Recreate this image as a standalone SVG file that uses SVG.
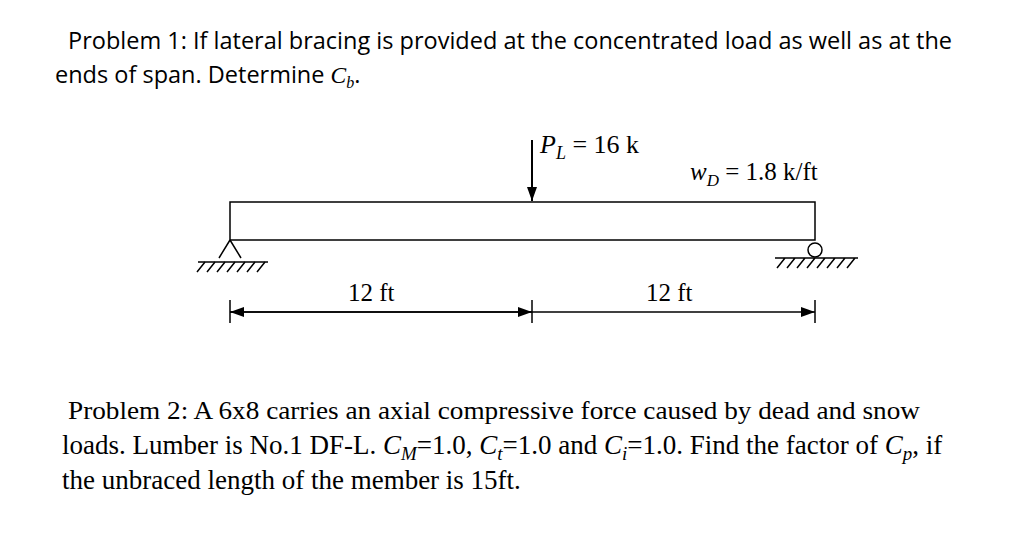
<svg xmlns="http://www.w3.org/2000/svg" width="1024" height="540" viewBox="0 0 1024 540">
<style>
.s{font-family:"Open Sans","Liberation Sans",sans-serif;font-size:23.5px;fill:#000}
.t{font-family:"Liberation Serif",serif;font-size:26px;fill:#000}
.d{font-family:"Liberation Serif",serif;font-size:25px;fill:#000}
.l{stroke:#000;fill:none}
</style>
<defs><marker id="a" markerWidth="14" markerHeight="10" refX="14" refY="5" orient="auto" markerUnits="userSpaceOnUse"><path d="M0,0L14,5L0,10z"/></marker></defs>
<rect width="1024" height="540" fill="#fff"/>
<text class="s" x="68" y="49">Problem 1: If lateral bracing is provided at the concentrated load as well as at the</text>
<text class="s" x="55" y="83">ends of span. Determine <tspan font-style="italic" font-family="Liberation Serif">C<tspan font-size="16" dy="5">b</tspan></tspan><tspan dy="-5">.</tspan></text>
<g id="beam"><rect class="l" x="230" y="202" width="585" height="38" stroke-width="1.5"/></g>
<g id="supports" class="l" stroke-width="1.5">
<path d="M230,240L219,258M230,240L241,258M198,262H268"/>
<path d="M205,262l-8,10M215,262l-8,10M225,262l-8,10M235,262l-8,10M245,262l-8,10M255,262l-8,10M265,262l-8,10"/>
<circle cx="815" cy="250" r="7"/>
<path d="M775,258H858M785,258l-8,10M795,258l-8,10M805,258l-8,10M815,258l-8,10M825,258l-8,10M835,258l-8,10M845,258l-8,10M855,258l-8,10"/>
</g>
<g id="connectors" class="l" stroke-width="1.5">
<line x1="532" y1="140" x2="532" y2="201" stroke-width="2" marker-end="url(#a)"/>
<line x1="230" y1="300" x2="230" y2="323"/><line x1="532" y1="300" x2="532" y2="323"/><line x1="815" y1="300" x2="815" y2="323"/>
<line x1="532" y1="312" x2="230" y2="312" marker-end="url(#a)"/>
<line x1="532" y1="312" x2="815" y2="312" marker-end="url(#a)"/>
<line x1="230" y1="312" x2="532" y2="312" marker-end="url(#a)"/>
</g>
<g id="labels">
<text class="t" x="540" y="153"><tspan font-style="italic">P<tspan font-size="18" dy="6">L</tspan></tspan><tspan dy="-6"> = 16 k</tspan></text>
<text class="d" x="690" y="180"><tspan font-style="italic">w<tspan font-size="17" dy="6">D</tspan></tspan><tspan dy="-6"> = 1.8 k/ft</tspan></text>
<text class="d" x="348" y="301">12 ft</text>
<text class="d" x="646" y="301">12 ft</text>
</g>
<text class="t" x="68" y="419" textLength="852" lengthAdjust="spacingAndGlyphs">Problem 2: A 6x8 carries an axial compressive force caused by dead and snow</text>
<text class="t" x="62" y="454" style="font-size:27px">loads. Lumber is No.1 DF-L. <tspan font-style="italic">C<tspan style="font-size:19px" dy="6">M</tspan></tspan><tspan dy="-6">=1.0, </tspan><tspan font-style="italic">C<tspan style="font-size:19px" dy="6">t</tspan></tspan><tspan dy="-6">=1.0 and </tspan><tspan font-style="italic">C<tspan style="font-size:19px" dy="6">i</tspan></tspan><tspan dy="-6">=1.0. Find the factor of </tspan><tspan font-style="italic">C<tspan style="font-size:19px" dy="6">p</tspan></tspan><tspan dy="-6">, if</tspan></text>
<text class="t" x="62" y="489" style="font-size:27px">the unbraced length of the member is 15ft.</text>
</svg>
